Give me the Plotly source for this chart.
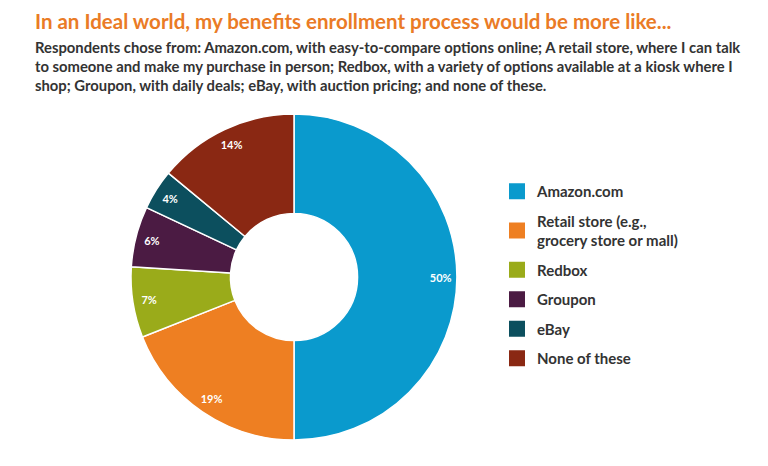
import plotly.graph_objects as go

categories = ["Amazon.com", "Retail store (e.g.,<br>grocery store or mall)", "Redbox", "Groupon", "eBay", "None of these"]
values = [50, 19, 7, 6, 4, 14]
colors = ["#0a9acd", "#ee7f22", "#9aab1a", "#4b1b43", "#0c4f5e", "#8a2813"]

title_text = "In an Ideal world, my benefits enrollment process would be more like..."
subtitle_lines = [
    "Respondents chose from: Amazon.com, with easy-to-compare options online; A retail store, where I can talk",
    "to someone and make my purchase in person; Redbox, with a variety of options available at a kiosk where I",
    "shop; Groupon, with daily deals; eBay, with auction pricing; and none of these.",
]

W, H = 768, 466
dom = dict(x=[131 / W, 457 / W], y=[1 - 440 / H, 1 - 114 / H])

fig = go.Figure()
# main donut
fig.add_trace(go.Pie(
    labels=categories, values=values,
    marker=dict(colors=colors, line=dict(color="white", width=1.5)),
    hole=0.39, sort=False, direction="clockwise", rotation=0,
    textinfo="none", domain=dom, showlegend=False,
    hoverinfo="label+percent",
))
# transparent outer ring carrying the percentage labels near the rim
fig.add_trace(go.Pie(
    labels=categories, values=values,
    marker=dict(colors=["rgba(0,0,0,0)"] * len(values), line=dict(width=0)),
    hole=0.8, sort=False, direction="clockwise", rotation=0,
    texttemplate="%{value}%", textposition="inside",
    insidetextorientation="horizontal",
    textfont=dict(family="Lato", size=11, color="white", weight="bold"),
    domain=dom, showlegend=False, hoverinfo="skip",
))
# legend entries
for cat, col in zip(categories, colors):
    fig.add_trace(go.Scatter(
        x=[None], y=[None], mode="markers", name=cat, legendgroup=cat,
        marker=dict(symbol="square", size=17, color=col),
        showlegend=True,
    ))

fig.add_annotation(text=title_text, x=33 / W, y=1 - 7 / H, xref="paper", yref="paper",
                   xanchor="left", yanchor="top", showarrow=False,
                   font=dict(family="Lato", size=20.5, color="#ea7b26", weight="bold"))
fig.add_annotation(text="<br>".join(subtitle_lines), x=33 / W, y=1 - 36 / H, xref="paper", yref="paper",
                   xanchor="left", yanchor="top", showarrow=False, align="left",
                   font=dict(family="Lato", size=14.8, color="#333333", weight="bold"))

fig.update_layout(
    width=W, height=H,
    margin=dict(l=0, r=0, t=0, b=0),
    paper_bgcolor="white", plot_bgcolor="white",
    xaxis=dict(visible=False), yaxis=dict(visible=False),
    uniformtext=dict(minsize=10, mode="show"),
    showlegend=True,
    legend=dict(x=497 / W, y=1 - 175 / H, xanchor="left", yanchor="top",
                font=dict(family="Lato", size=15, color="#333333", weight="bold"),
                traceorder="grouped", tracegroupgap=7, itemwidth=30,
                itemsizing="trace"),
)

fig.write_html("out.html")
